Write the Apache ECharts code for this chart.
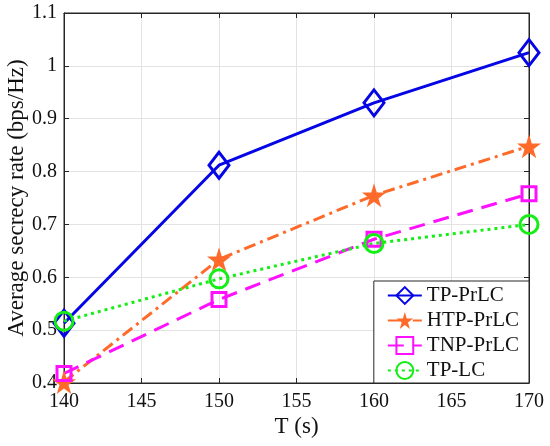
<!DOCTYPE html>
<html>
<head>
<meta charset="utf-8">
<script src="https://cdn.jsdelivr.net/npm/echarts@6/dist/echarts.min.js"></script>
<style>
  html, body { margin: 0; padding: 0; background: #fff; }
  #chart { width: 550px; height: 446px; }
</style>
</head>
<body>
<div id="chart"></div>
<script>
const tValues = [140, 150, 160, 170];
const tpPrLC = [0.513, 0.812, 0.930, 1.025];
const htpPrLC = [0.402, 0.634, 0.755, 0.848];
const tnpPrLC = [0.418, 0.558, 0.672, 0.758];
const tpLC = [0.517, 0.597, 0.664, 0.700];
const seriesNames = ["TP-PrLC", "HTP-PrLC", "TNP-PrLC", "TP-LC"];

const font = "Liberation Serif";
const starPath = "path://M50,0 L61,35 L98,35 L68,57 L79,91 L50,70 L21,91 L32,57 L2,35 L39,35 Z";

function pairs(ys) {
  return tValues.map((t, i) => [t, ys[i]]);
}

//每条曲线
function makeSeries(name, ys, color, dash, symbol, size, filled) {
  return {
    name: name,
    type: "line",
    data: pairs(ys),
    symbol: symbol,
    symbolSize: size,
    z: 3,
    lineStyle: { color: color, width: 3, type: dash },
    itemStyle: {
      color: filled ? color : "rgba(0,0,0,0)",
      borderColor: color,
      borderWidth: filled ? 0 : 3,
    },
    emphasis: { disabled: true },
  };
}

const axisColor = "#262626";
let chart = echarts.init(document.getElementById("chart"));
let option = {
  animation: false,
  backgroundColor: "#fff",
  grid: {
    left: 64,
    right: 21,
    top: 13,
    bottom: 63,
    outerBoundsMode: "none",
    containLabel: false,
    show: true,
    borderColor: axisColor,
    borderWidth: 1,
  },
  legend: {
    orient: "vertical",
    right: 21,
    bottom: 63,
    data: seriesNames,
    backgroundColor: "#fff",
    borderColor: axisColor,
    borderWidth: 1,
    borderRadius: 0,
    padding: [4, 10, 2, 13],
    itemGap: 4,
    itemWidth: 34,
    itemHeight: 21,
    textStyle: { fontFamily: font, fontSize: 21, color: "#111" },
  },
  xAxis: [
    {
      type: "value",
      min: 140,
      max: 170,
      interval: 5,
      name: "T (s)",
      nameLocation: "middle",
      nameGap: 32,
      nameMoveOverlap: false,
      nameTextStyle: { fontFamily: font, fontSize: 23, color: "#111" },
      axisLine: { show: true, lineStyle: { color: axisColor } },
      axisTick: { inside: true, length: 5, lineStyle: { color: axisColor } },
      axisLabel: { fontFamily: font, fontSize: 20, color: "#111", margin: 9 },
      splitLine: { show: true, lineStyle: { color: "#e3e3e3" } },
    },
    {
      type: "value",
      position: "top",
      min: 140,
      max: 170,
      interval: 5,
      axisLine: { show: true, lineStyle: { color: axisColor } },
      axisTick: { inside: true, length: 5, lineStyle: { color: axisColor } },
      axisLabel: { show: false },
      splitLine: { show: false },
    },
  ],
  yAxis: [
    {
      type: "value",
      min: 0.4,
      max: 1.1,
      interval: 0.1,
      name: "Average secrecy rate (bps/Hz)",
      nameLocation: "middle",
      nameGap: 36,
      nameMoveOverlap: false,
      nameTextStyle: { fontFamily: font, fontSize: 23, color: "#111" },
      axisLine: { show: true, lineStyle: { color: axisColor } },
      axisTick: { inside: true, length: 5, lineStyle: { color: axisColor } },
      axisLabel: {
        fontFamily: font,
        fontSize: 20,
        color: "#111",
        margin: 7,
        formatter: (v) => String(Math.round(v * 10) / 10),
      },
      splitLine: { show: true, lineStyle: { color: "#e3e3e3" } },
    },
    {
      type: "value",
      position: "right",
      min: 0.4,
      max: 1.1,
      interval: 0.1,
      axisLine: { show: true, lineStyle: { color: axisColor } },
      axisTick: { inside: true, length: 5, lineStyle: { color: axisColor } },
      axisLabel: { show: false },
      splitLine: { show: false },
    },
  ],
  series: [
    makeSeries(seriesNames[0], tpPrLC, "#0505e6", "solid", "diamond", [20, 26], false),
    makeSeries(seriesNames[1], htpPrLC, "#ff6a2a", [12, 5, 3, 5], starPath, 24, true),
    makeSeries(seriesNames[2], tnpPrLC, "#ff10ff", [16, 9], "rect", 14, false),
    makeSeries(seriesNames[3], tpLC, "#14ee14", [3, 4], "circle", 18, false),
  ],
};
chart.setOption(option);
</script>
</body>
</html>
